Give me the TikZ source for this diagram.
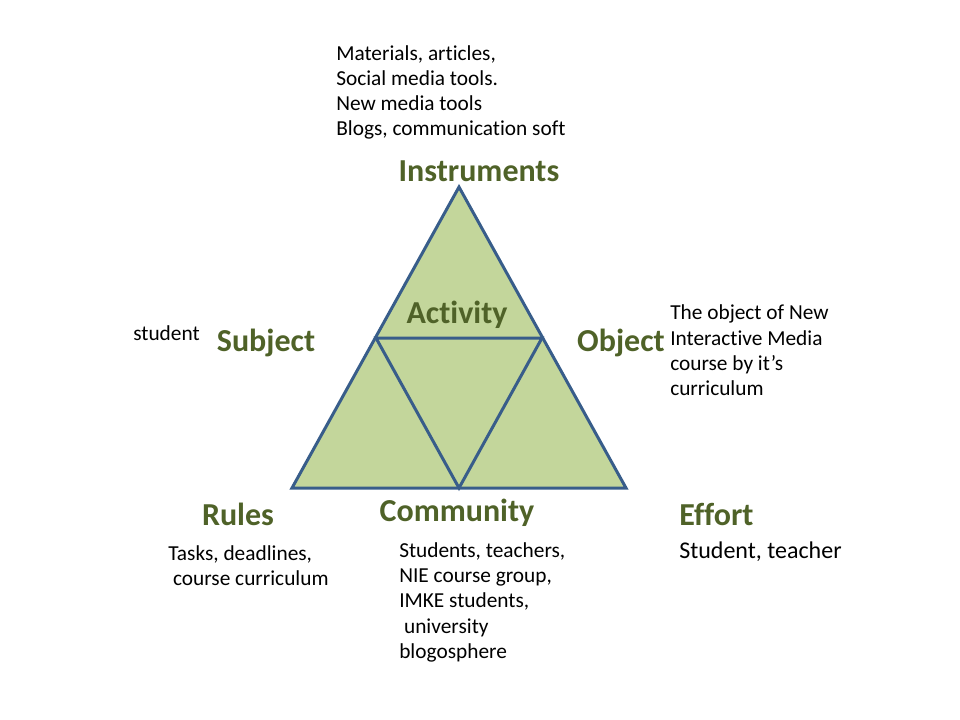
\documentclass[tikz,border=0pt]{standalone}
\usepackage{fontspec}
\setmainfont[Ligatures={NoCommon}]{Carlito}
\definecolor{labelgreen}{HTML}{4F6228}
\definecolor{trifill}{HTML}{C3D69B}
\definecolor{triline}{HTML}{385D8A}
\begin{document}
\begin{tikzpicture}[x=0.75pt,y=-0.75pt,
  lbl/.style={font=\fontsize{24}{28}\selectfont\bfseries, text=labelgreen, inner sep=0pt, anchor=base},
  body/.style={font=\fontsize{16}{19}\selectfont, text=black, inner sep=0pt, anchor=base west},
  bigbody/.style={font=\fontsize{18}{21}\selectfont, text=black, inner sep=0pt, anchor=base west},
  tri/.style={draw=triline, line width=2.25pt, line join=miter}]
\useasboundingbox (0,0) rectangle (960,720);
% triangle corners
\coordinate (top) at (459,187);
\coordinate (bl) at (292,488);
\coordinate (br) at (626,488);
\coordinate (ml) at (376,338);
\coordinate (mr) at (542,338);
\coordinate (mb) at (459,488);
\fill[trifill] (top) -- (bl) -- (br) -- cycle;
\draw[tri] (top) -- (bl) -- (br) -- cycle;
\draw[tri] (ml) -- (mr) -- (mb) -- cycle;
% labels
\node[lbl] (instr) at (479,182) {Instruments};
\node[lbl] (activity) at (457,323) {Activity};
\node[lbl] (subject) at (266,351) {Subject};
\node[lbl] (object) at (621,351) {Object};
\node[lbl] (rules) at (238,525) {Rules};
\node[lbl] (community) at (457,521) {Community};
\node[lbl, anchor=base west] (effort) at (679,525) {Effort};
% body texts
\node[body, font=\fontsize{16}{18.6}\selectfont] (instrtext) at (336,61) {\begin{tabular}[t]{@{}l@{}}Materials, articles,\\ Social media tools.\\ New media tools\\ Blogs, communication soft\end{tabular}};
\node[body] (subjtext) at (133,340) {student};
\node[body] (objtext) at (670,320) {\begin{tabular}[t]{@{}l@{}}The object of New\\ Interactive Media\\ course by it’s\\ curriculum\end{tabular}};
\node[body] (rulestext) at (168,560) {\begin{tabular}[t]{@{}l@{}}Tasks, deadlines,\\ \ course curriculum\end{tabular}};
\node[body] (commtext) at (399,557) {\begin{tabular}[t]{@{}l@{}}Students, teachers,\\ NIE course group,\\ IMKE students,\\ \ university\\ blogosphere\end{tabular}};
\node[bigbody] (efforttext) at (679,558) {Student, teacher};
\end{tikzpicture}
\end{document}
